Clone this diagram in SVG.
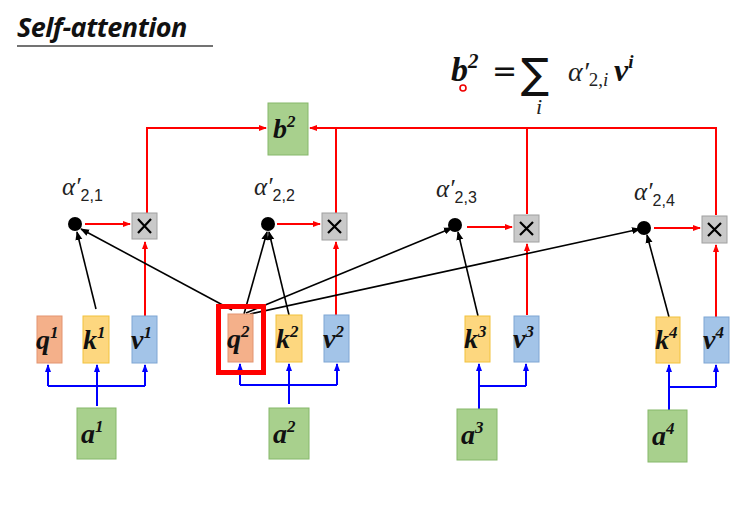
<svg xmlns="http://www.w3.org/2000/svg" width="744" height="507" viewBox="0 0 744 507">
<style>
.m{font-family:"Liberation Serif","DejaVu Serif",serif;font-weight:bold;font-style:italic;font-size:28px;fill:#111}
.s{font-size:17px}
.al{font-family:"Liberation Serif","DejaVu Serif",serif;font-style:italic;font-size:25px;fill:#222}
.al2{font-family:"Liberation Sans",sans-serif;font-style:normal;font-size:16px}
.q{fill:#f4b08a;stroke:#e39470;stroke-width:1}
.k{fill:#fdd77f;stroke:#f2c23c;stroke-width:1}
.v{fill:#a3c4e8;stroke:#7ea6d4;stroke-width:1}
.g{fill:#a8d08d;stroke:#86b86a;stroke-width:1}
.x{fill:#c9c9c9;stroke:#a0a0a0;stroke-width:1}
.r{stroke:#f00;stroke-width:2;fill:none}
.bl{stroke:#00f;stroke-width:2;fill:none}
.bk{stroke:#000;stroke-width:1.6;fill:none}
</style>
<defs>
<marker id="ar" markerWidth="8" markerHeight="8" refX="7" refY="4" orient="auto" markerUnits="userSpaceOnUse"><path d="M0,1 L8,4 L0,7 Z" fill="#f00"/></marker>
<marker id="ab" markerWidth="8" markerHeight="8" refX="7" refY="4" orient="auto" markerUnits="userSpaceOnUse"><path d="M0,1 L8,4 L0,7 Z" fill="#00f"/></marker>
<marker id="ak" markerWidth="9" markerHeight="9" refX="8" refY="4.5" orient="auto" markerUnits="userSpaceOnUse"><path d="M0,1 L9,4.5 L0,8 Z" fill="#000"/></marker>
</defs>
<rect width="744" height="507" fill="#fff"/>
<g id="title">
<text x="17" y="37" font-family="'Open Sans','Liberation Sans',sans-serif" font-weight="bold" font-style="italic" font-size="27" fill="#111" letter-spacing="-0.5">Self-attention</text>
<line x1="17" y1="46" x2="213" y2="46" stroke="#444" stroke-width="1.5"/>
</g>
<g id="formula">
<text x="451" y="81" class="m" style="font-size:34px">b<tspan dy="-13" style="font-size:21px">2</tspan></text>
<text x="492" y="81" font-family="'DejaVu Sans',sans-serif" font-size="30" fill="#111">=</text>
<text x="521" y="88" font-family="'DejaVu Sans',sans-serif" font-size="42" fill="#111">∑</text>
<text x="536" y="114" class="al" style="font-size:22px">i</text>
<text x="568" y="81" class="al" style="font-size:28px">α′<tspan dy="5" style="font-size:19px;font-style:normal">2,</tspan><tspan style="font-size:19px">i</tspan></text>
<text x="614" y="81" class="m" style="font-size:32px">v<tspan dy="-13" style="font-size:19px">i</tspan></text>
<circle cx="463" cy="88" r="3" fill="none" stroke="#e00" stroke-width="1.6"/>
</g>
<g id="connectors">
<path class="r" d="M147,213 V128 H266" marker-end="url(#ar)"/>
<path class="r" d="M716,215 V128 H310" marker-end="url(#ar)"/>
<path class="r" d="M336,213 V128 M527,214 V128"/>
<path class="r" d="M85,224 H130" marker-end="url(#ar)"/>
<path class="r" d="M277,224 H320" marker-end="url(#ar)"/>
<path class="r" d="M467,227 H512" marker-end="url(#ar)"/>
<path class="r" d="M654,228 H700" marker-end="url(#ar)"/>
<path class="r" d="M145,316 V242" marker-end="url(#ar)"/>
<path class="r" d="M336,315 V242" marker-end="url(#ar)"/>
<path class="r" d="M527,315 V244" marker-end="url(#ar)"/>
<path class="r" d="M716,317 V245" marker-end="url(#ar)"/>
<path class="bl" d="M97,406 V365 M48,386 H145 M48,386 V365 M145,386 V365"/>
<path class="bl" d="M97,380 V365" marker-end="url(#ab)"/>
<path class="bl" d="M48,380 V365" marker-end="url(#ab)"/>
<path class="bl" d="M145,380 V365" marker-end="url(#ab)"/>
<path class="bl" d="M289,404 V364 M240,385 H337 M240,385 V364 M337,385 V364"/>
<path class="bl" d="M289,380 V364" marker-end="url(#ab)"/>
<path class="bl" d="M240,380 V364" marker-end="url(#ab)"/>
<path class="bl" d="M337,380 V364" marker-end="url(#ab)"/>
<path class="bl" d="M479,409 V364 M479,386 H526 M526,386 V364"/>
<path class="bl" d="M479,380 V364" marker-end="url(#ab)"/>
<path class="bl" d="M526,380 V364" marker-end="url(#ab)"/>
<path class="bl" d="M669,410 V365 M669,387 H716 M716,387 V365"/>
<path class="bl" d="M669,380 V365" marker-end="url(#ab)"/>
<path class="bl" d="M716,380 V365" marker-end="url(#ab)"/>
<path class="bk" d="M96,309 L77,232" marker-end="url(#ak)"/>
<path class="bk" d="M232,310 L81,229" marker-end="url(#ak)"/>
<path class="bk" d="M244,314 L267,232" marker-end="url(#ak)"/>
<path class="bk" d="M289,315 L269,232" marker-end="url(#ak)"/>
<path class="bk" d="M246,313 L452,228" marker-end="url(#ak)"/>
<path class="bk" d="M250,314 L640,229" marker-end="url(#ak)"/>
<path class="bk" d="M478,316 L458,232" marker-end="url(#ak)"/>
<path class="bk" d="M669,317 L647,235" marker-end="url(#ak)"/>
</g>
<g id="b2"><rect class="g" x="268" y="103" width="40" height="52"/><text class="m" x="273" y="138">b<tspan class="s" dy="-11">2</tspan></text></g>
<g id="alpha1"><circle cx="75" cy="224" r="7" fill="#000"/><text class="al" x="62" y="195">α′<tspan class="al2" dy="6">2,1</tspan></text></g>
<g id="alpha2"><circle cx="268" cy="224" r="7" fill="#000"/><text class="al" x="254" y="195">α′<tspan class="al2" dy="6">2,2</tspan></text></g>
<g id="alpha3"><circle cx="455" cy="225" r="7" fill="#000"/><text class="al" x="436" y="197">α′<tspan class="al2" dy="6">2,3</tspan></text></g>
<g id="alpha4"><circle cx="644" cy="228" r="7" fill="#000"/><text class="al" x="634" y="200">α′<tspan class="al2" dy="6">2,4</tspan></text></g>
<g id="mul1"><rect class="x" x="132" y="213" width="25" height="26"/><path d="M138,219 L151,233 M151,219 L138,233" stroke="#000" stroke-width="2.2"/></g>
<g id="mul2"><rect class="x" x="322" y="213" width="25" height="27"/><path d="M328,220 L341,233 M341,220 L328,233" stroke="#000" stroke-width="2.2"/></g>
<g id="mul3"><rect class="x" x="514" y="215" width="25" height="27"/><path d="M520,222 L533,235 M533,222 L520,235" stroke="#000" stroke-width="2.2"/></g>
<g id="mul4"><rect class="x" x="702" y="216" width="25" height="27"/><path d="M708,223 L721,236 M721,223 L708,236" stroke="#000" stroke-width="2.2"/></g>
<g id="q1"><rect class="q" x="37" y="316" width="25" height="47"/><text class="m" x="36" y="349">q<tspan class="s" dy="-11">1</tspan></text></g>
<g id="k1"><rect class="k" x="83" y="316" width="26" height="47"/><text class="m" x="83" y="349">k<tspan class="s" dy="-11">1</tspan></text></g>
<g id="v1"><rect class="v" x="132" y="316" width="25" height="47"/><text class="m" x="131" y="349">v<tspan class="s" dy="-11">1</tspan></text></g>
<g id="q2"><rect class="q" x="228" y="314" width="25" height="48"/><rect x="218.5" y="306.5" width="45" height="66" fill="none" stroke="#f00" stroke-width="5"/><text class="m" x="227" y="348">q<tspan class="s" dy="-11">2</tspan></text></g>
<g id="k2"><rect class="k" x="276" y="315" width="26" height="47"/><text class="m" x="276" y="348">k<tspan class="s" dy="-11">2</tspan></text></g>
<g id="v2"><rect class="v" x="324" y="315" width="25" height="47"/><text class="m" x="323" y="348">v<tspan class="s" dy="-11">2</tspan></text></g>
<g id="k3"><rect class="k" x="465" y="316" width="25" height="46"/><text class="m" x="464" y="348">k<tspan class="s" dy="-11">3</tspan></text></g>
<g id="v3"><rect class="v" x="514" y="316" width="25" height="46"/><text class="m" x="513" y="348">v<tspan class="s" dy="-11">3</tspan></text></g>
<g id="k4"><rect class="k" x="656" y="317" width="24" height="46"/><text class="m" x="655" y="349">k<tspan class="s" dy="-11">4</tspan></text></g>
<g id="v4"><rect class="v" x="704" y="317" width="25" height="46"/><text class="m" x="703" y="349">v<tspan class="s" dy="-11">4</tspan></text></g>
<g id="a1"><rect class="g" x="77" y="408" width="39" height="51"/><text class="m" x="81" y="443">a<tspan class="s" dy="-11">1</tspan></text></g>
<g id="a2"><rect class="g" x="269" y="408" width="40" height="51"/><text class="m" x="273" y="443">a<tspan class="s" dy="-11">2</tspan></text></g>
<g id="a3"><rect class="g" x="457" y="409" width="40" height="51"/><text class="m" x="461" y="444">a<tspan class="s" dy="-11">3</tspan></text></g>
<g id="a4"><rect class="g" x="648" y="410" width="39" height="52"/><text class="m" x="652" y="445">a<tspan class="s" dy="-11">4</tspan></text></g>
</svg>
